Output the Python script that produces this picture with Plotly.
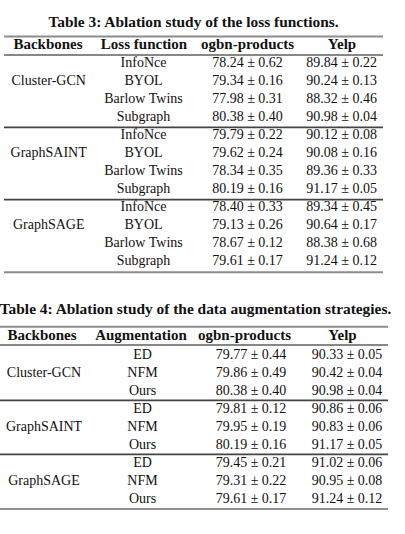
import plotly.graph_objects as go

backbones = ["Cluster-GCN", "GraphSAINT", "GraphSAGE"]

# Table 3: loss functions
loss_functions = ["InfoNce", "BYOL", "Barlow Twins", "Subgraph"]
t3_products_mean = [78.24, 79.34, 77.98, 80.38, 79.79, 79.62, 78.34, 80.19, 78.40, 79.13, 78.67, 79.61]
t3_products_std = [0.62, 0.16, 0.31, 0.40, 0.22, 0.24, 0.35, 0.16, 0.33, 0.26, 0.12, 0.17]
t3_yelp_mean = [89.84, 90.24, 88.32, 90.98, 90.12, 90.08, 89.36, 91.17, 89.34, 90.64, 88.38, 91.24]
t3_yelp_std = [0.22, 0.13, 0.46, 0.04, 0.08, 0.16, 0.33, 0.05, 0.45, 0.17, 0.68, 0.12]

# Table 4: augmentation strategies
augmentations = ["ED", "NFM", "Ours"]
t4_products_mean = [79.77, 79.86, 80.38, 79.81, 79.95, 80.19, 79.45, 79.31, 79.61]
t4_products_std = [0.44, 0.49, 0.40, 0.12, 0.19, 0.16, 0.21, 0.22, 0.17]
t4_yelp_mean = [90.33, 90.42, 90.98, 90.86, 90.83, 91.17, 91.02, 90.95, 91.24]
t4_yelp_std = [0.05, 0.04, 0.04, 0.06, 0.06, 0.05, 0.06, 0.08, 0.12]

W, H = 405, 534
FONT = "Liberation Serif"
BODY_FS, HEAD_FS, TITLE_FS = 14, 15, 15.4


def pm(means, stds):
    return [f"{m:.2f} ± {s:.2f}" for m, s in zip(means, stds)]


def add_text(fig, xs, ys, texts, size=BODY_FS, bold=False):
    fig.add_trace(go.Scatter(
        x=xs, y=ys, text=[f"<b>{t}</b>" if bold else t for t in texts],
        mode="text", textposition="middle center",
        textfont=dict(family=FONT, size=size, color="#111111"),
        hoverinfo="skip", showlegend=False, cliponaxis=False,
    ))


def rule(fig, y, x0, x1, color, width):
    fig.add_shape(type="line", xref="x", yref="y", x0=x0, x1=x1, y0=y, y1=y,
                  line=dict(color=color, width=width))


def draw_table(fig, t):
    methods = t["methods"]
    n = len(methods)
    rows = [t["row0"] + t["step"] * i for i in range(n * len(backbones))]

    add_text(fig, [t["title_x"]], [t["title_y"]], [t["title"]], size=TITLE_FS, bold=True)
    rule(fig, t["top"], t["x0"], t["x1"], "#8c8c8c", 2)
    add_text(fig, t["head_x"], [t["head_y"]] * 4, t["header"], size=HEAD_FS, bold=True)
    rule(fig, t["head_rule"], t["x0"], t["x1"], "#111111", 1.2)

    # backbone names sit on the second row of each group
    add_text(fig, [t["col_x"][0]] * len(backbones),
             [rows[g * n + 1] for g in range(len(backbones))], backbones)
    add_text(fig, [t["col_x"][1]] * len(rows), rows, methods * len(backbones))
    add_text(fig, [t["col_x"][2]] * len(rows), rows, t["products"])
    add_text(fig, [t["col_x"][3]] * len(rows), rows, t["yelp"])

    for g in range(1, len(backbones)):
        rule(fig, rows[g * n - 1] + t["gap"], t["x0"], t["x1"], "#444444", 1.6)
    rule(fig, rows[-1] + t["gap"] + 0.6, t["x0"], t["x1"], t["bottom_color"], t["bottom_w"])


fig = go.Figure()

draw_table(fig, dict(
    title="Table 3: Ablation study of the loss functions.",
    title_x=193.5, title_y=23,
    top=36.5, x0=4, x1=383,
    header=["Backbones", "Loss function", "ogbn-products", "Yelp"],
    head_x=[48, 144, 247.5, 342], head_y=45.5, head_rule=55,
    row0=63.3, step=18.04, gap=10,
    col_x=[48.7, 143.5, 247.5, 341.7],
    methods=loss_functions,
    products=pm(t3_products_mean, t3_products_std),
    yelp=pm(t3_yelp_mean, t3_yelp_std),
    bottom_color="#8c8c8c", bottom_w=2,
))

draw_table(fig, dict(
    title="Table 4: Ablation study of the data augmentation strategies.",
    title_x=195.5, title_y=310,
    top=326.7, x0=0, x1=388,
    header=["Backbones", "Augmentation", "ogbn-products", "Yelp"],
    head_x=[42, 141, 244.5, 342.5], head_y=336, head_rule=345,
    row0=355, step=18, gap=9.4,
    col_x=[44, 142.5, 251, 347],
    methods=augmentations,
    products=pm(t4_products_mean, t4_products_std),
    yelp=pm(t4_yelp_mean, t4_yelp_std),
    bottom_color="#222222", bottom_w=1.2,
))

fig.update_xaxes(range=[0, W], visible=False, fixedrange=True)
fig.update_yaxes(range=[H, 0], visible=False, fixedrange=True)
fig.update_layout(
    width=W, height=H,
    margin=dict(l=0, r=0, t=0, b=0),
    font=dict(family=FONT, size=BODY_FS, color="#111111"),
    paper_bgcolor="white", plot_bgcolor="white",
)

# drop the page's default 8px body margin so the figure sits at the window corner
fig.write_html("out.html", config={"displayModeBar": False},
               post_script="document.body.style.margin = '0';")
